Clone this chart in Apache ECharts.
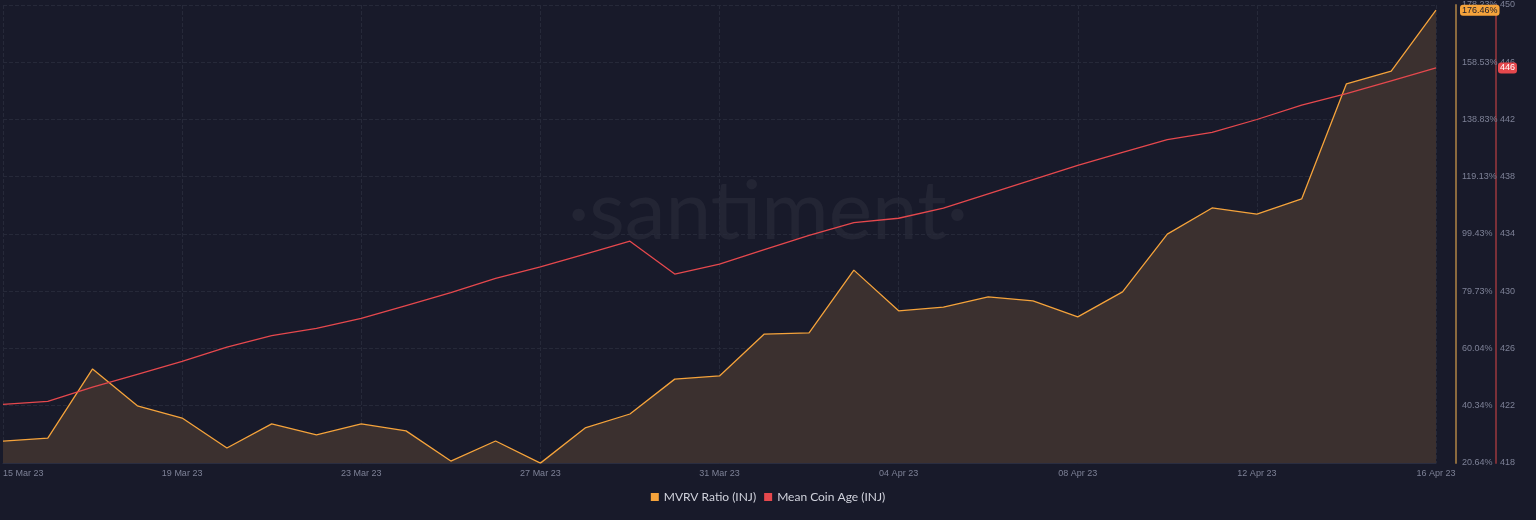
<!DOCTYPE html>
<html><head><meta charset="utf-8">
<script src="https://cdn.jsdelivr.net/npm/echarts@6/dist/echarts.min.js"></script>
<style>html,body{margin:0;padding:0;background:#181a2a}#c{width:1536px;height:520px}</style>
</head><body><div id="c"></div>
<script>
const categories = ["15 Mar 23","16 Mar 23","17 Mar 23","18 Mar 23","19 Mar 23","20 Mar 23","21 Mar 23","22 Mar 23","23 Mar 23","24 Mar 23","25 Mar 23","26 Mar 23","27 Mar 23","28 Mar 23","29 Mar 23","30 Mar 23","31 Mar 23","01 Apr 23","02 Apr 23","03 Apr 23","04 Apr 23","05 Apr 23","06 Apr 23","07 Apr 23","08 Apr 23","09 Apr 23","10 Apr 23","11 Apr 23","12 Apr 23","13 Apr 23","14 Apr 23","15 Apr 23","16 Apr 23"];
const mvrv = [28.2,29.2,53.0,40.3,36.1,25.8,34.1,30.3,34.1,31.7,21.3,28.2,20.6,32.7,37.5,49.5,50.6,65.0,65.4,87.0,73.0,74.3,77.8,76.4,70.9,79.5,99.4,108.4,106.3,111.5,151.1,155.5,176.46];
const coinAge = [422.1,422.3,423.3,424.2,425.1,426.1,426.9,427.4,428.1,429.0,429.9,430.9,431.7,432.6,433.5,431.2,431.9,432.9,433.9,434.8,435.1,435.8,436.8,437.8,438.8,439.7,440.6,441.1,442.0,443.0,443.8,444.7,445.6];
const pctTicks = [20.64,40.34,60.04,79.73,99.43,119.13,138.83,158.53,178.23];
const ORANGE='#f5a33b', RED='#e5484d', TXT='#7d8196';
const chart = echarts.init(document.getElementById('c'));
chart.setOption({
  backgroundColor:'#181a2a',
  animation:false,
  graphic:[{type:'text',left:'center',top:172,style:{text:'·santiment·',fontSize:82,fontFamily:'Lato',fill:'rgba(255,255,255,0.05)'}}],
  legend:{bottom:12,itemWidth:8,itemHeight:8,icon:'rect',textStyle:{color:'#d0d2dc',fontSize:12,fontFamily:'Lato'},data:['MVRV Ratio (INJ)','Mean Coin Age (INJ)']},
  grid:{left:0,right:100,top:5,bottom:57},
  xAxis:{type:'category',data:categories,boundaryGap:false,
    axisLine:{lineStyle:{color:'#2a2d40'}},axisTick:{show:false},
    axisLabel:{interval:3,color:TXT,fontSize:9,fontFamily:'Liberation Sans',margin:6,alignMinLabel:'left'},
    splitLine:{show:true,interval:3,lineStyle:{color:'#262939',type:'dashed'}}},
  yAxis:[
    {type:'value',position:'right',offset:20,min:20.64,max:178.23,interval:19.699,
     axisLine:{show:true,lineStyle:{color:'#8a6a3e',width:2}},axisTick:{show:false},
     axisLabel:{color:TXT,fontSize:9,fontFamily:'Liberation Sans',margin:6,
       formatter:v=>{let b=pctTicks[0];pctTicks.forEach(t=>{if(Math.abs(t-v)<Math.abs(b-v))b=t;});return b.toFixed(2)+'%';}},
     splitLine:{show:true,lineStyle:{color:'#262939',type:'dashed'}},
     axisPointer:{show:true,value:176.46,status:'show',triggerOn:'none',lineStyle:{opacity:0},
       label:{show:true,backgroundColor:ORANGE,color:'#1a1b2b',fontSize:9,padding:[1,2],margin:4,formatter:'176.46%'}}},
    {type:'value',position:'right',offset:60,min:418,max:450,interval:4,
     axisLine:{show:true,lineStyle:{color:'#7a3038',width:2}},axisTick:{show:false},
     axisLabel:{color:TXT,fontSize:9,fontFamily:'Liberation Sans',margin:4},
     splitLine:{show:false},
     axisPointer:{show:true,value:445.6,status:'show',triggerOn:'none',lineStyle:{opacity:0},
       label:{show:true,backgroundColor:RED,color:'#fff',fontSize:9,padding:[1,2],margin:2,formatter:'446'}}}
  ],
  series:[
    {name:'MVRV Ratio (INJ)',type:'line',data:mvrv,yAxisIndex:0,symbol:'none',
     lineStyle:{color:ORANGE,width:1.3},itemStyle:{color:ORANGE},areaStyle:{color:'#3b302f',opacity:1}},
    {name:'Mean Coin Age (INJ)',type:'line',data:coinAge,yAxisIndex:1,symbol:'none',
     lineStyle:{color:RED,width:1.3},itemStyle:{color:RED}}
  ]
});
</script></body></html>
